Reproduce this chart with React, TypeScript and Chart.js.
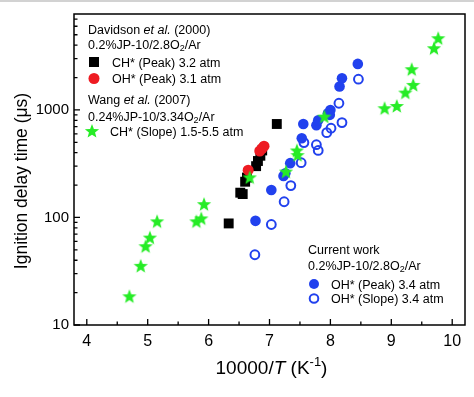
import React, { useEffect, useRef } from 'react';
import { Chart, registerables } from 'chart.js';
Chart.register(...registerables);

const W = 474;
const H = 397;
const FAM = '"Liberation Sans", Arial, Helvetica, sans-serif';

// Davidson et al. (2000) CH* (Peak) 3.2 atm
const chPeakX = [6.33, 6.52, 6.56, 6.6, 6.63, 6.78, 6.81, 6.85, 6.88, 7.12];
const chPeakY = [88, 170, 165, 215, 235, 300, 335, 375, 420, 740];
// Davidson et al. (2000) OH* (Peak) 3.1 atm
const ohPeakDX = [6.65, 6.84, 6.88, 6.91];
const ohPeakDY = [275, 415, 440, 460];
// Wang et al. (2007) CH* (Slope) 1.5-5.5 atm
const wangX = [4.7, 4.885, 4.966, 5.036, 5.154, 5.8, 5.88, 5.925, 6.675, 7.27, 7.45, 7.46, 7.9, 8.89, 9.09, 9.23, 9.36, 9.335, 9.7, 9.77];
const wangY = [18.5, 35.5, 54, 65, 92, 92, 98, 133, 236, 267, 420, 380, 867, 1037, 1089, 1449, 1709, 2392, 3750, 4645];
// Current work OH* (Peak) 3.4 atm
const cwPeakX = [6.77, 7.03, 7.23, 7.26, 7.34, 7.53, 7.555, 7.77, 7.8, 7.96, 8.0, 7.99, 8.15, 8.19, 8.45];
const cwPeakY = [93, 180, 243, 258, 320, 546, 740, 720, 800, 930, 1000, 900, 1650, 1970, 2680];
// Current work OH* (Slope) 3.4 atm
const cwSlopeX = [6.76, 7.03, 7.24, 7.35, 7.52, 7.565, 7.77, 7.8, 7.94, 8.01, 8.19, 8.14, 8.46];
const cwSlopeY = [45, 86, 140, 198, 323, 497, 475, 420, 615, 676, 762, 1154, 1930];

const xTicks = [4, 5, 6, 7, 8, 9, 10];
const xMinorTicks = [4.5, 5.5, 6.5, 7.5, 8.5, 9.5];
const yTicks = [10, 100, 1000];
const yMinorTicks = [20, 30, 40, 50, 60, 70, 80, 90, 200, 300, 400, 500, 600, 700, 800, 900, 2000, 3000, 4000, 5000, 6000, 7000];

const yTitle = 'Ignition delay time (\u03bcs)';

type Run = { t: string; italic?: boolean; sub?: boolean; sup?: boolean };

const xTitleRuns: Run[] = [{ t: '10000/' }, { t: 'T', italic: true }, { t: ' (K' }, { t: '-1', sup: true }, { t: ')' }];
const davidsonHead: Run[] = [{ t: 'Davidson ' }, { t: 'et al.', italic: true }, { t: ' (2000)' }];
const davidsonMix: Run[] = [{ t: '0.2%JP-10/2.8O' }, { t: '2', sub: true }, { t: '/Ar' }];
const wangHead: Run[] = [{ t: 'Wang ' }, { t: 'et al.', italic: true }, { t: ' (2007)' }];
const wangMix: Run[] = [{ t: '0.24%JP-10/3.34O' }, { t: '2', sub: true }, { t: '/Ar' }];
const cwHead: Run[] = [{ t: 'Current work' }];
const cwMix: Run[] = [{ t: '0.2%JP-10/2.8O' }, { t: '2', sub: true }, { t: '/Ar' }];
const labelChPeak = 'CH* (Peak) 3.2 atm';
const labelOhPeakD = 'OH* (Peak) 3.1 atm';
const labelWang = 'CH* (Slope) 1.5-5.5 atm';
const labelCwPeak = 'OH* (Peak) 3.4 atm';
const labelCwSlope = 'OH* (Slope) 3.4 atm';

const GREEN = '#26ec26';
const BLUE = '#2141ee';
const RED = '#ee1b22';

function starPath(ctx: CanvasRenderingContext2D, cx: number, cy: number, ro: number, ri: number) {
  ctx.beginPath();
  for (let i = 0; i < 10; i++) {
    const r = i % 2 === 0 ? ro : ri;
    const a = -Math.PI / 2 + (i * Math.PI) / 5;
    const px = cx + r * Math.cos(a);
    const py = cy + r * Math.sin(a);
    if (i === 0) ctx.moveTo(px, py);
    else ctx.lineTo(px, py);
  }
  ctx.closePath();
}

function makeStar(): HTMLCanvasElement {
  const c = document.createElement('canvas');
  c.width = 16;
  c.height = 16;
  const g = c.getContext('2d')!;
  g.fillStyle = GREEN;
  starPath(g, 8, 8.6, 7.5, 3.2);
  g.fill();
  return c;
}

function drawRuns(ctx: CanvasRenderingContext2D, runs: Run[], x: number, yMid: number, size: number, align: 'left' | 'center') {
  const fontFor = (r: Run) => `${r.italic ? 'italic ' : ''}${r.sub || r.sup ? Math.round(size * 0.68) : size}px ${FAM}`;
  let total = 0;
  for (const r of runs) {
    ctx.font = fontFor(r);
    total += ctx.measureText(r.t).width;
  }
  let cx = align === 'center' ? x - total / 2 : x;
  const base = yMid + size * 0.36;
  ctx.textAlign = 'left';
  ctx.textBaseline = 'alphabetic';
  for (const r of runs) {
    ctx.font = fontFor(r);
    const dy = r.sub ? size * 0.22 : r.sup ? -size * 0.4 : 0;
    ctx.fillText(r.t, cx, base + dy);
    cx += ctx.measureText(r.t).width;
  }
}

const decor = {
  id: 'decor',
  beforeDraw(chart: any) {
    const ctx = chart.ctx;
    ctx.save();
    ctx.fillStyle = '#ffffff';
    ctx.fillRect(0, 0, W, H);
    ctx.fillStyle = '#d2d2d2';
    ctx.fillRect(0, 0, W, 2);
    ctx.restore();
  },
  afterDraw(chart: any) {
    const ctx: CanvasRenderingContext2D = chart.ctx;
    const a = chart.chartArea;
    const xs = chart.scales.x;
    const ys = chart.scales.y;
    ctx.save();
    ctx.strokeStyle = '#000';
    ctx.lineWidth = 1.5;
    ctx.strokeRect(a.left, a.top, a.right - a.left, a.bottom - a.top);
    ctx.lineWidth = 1.3;
    ctx.beginPath();
    for (const v of xTicks) {
      const px = xs.getPixelForValue(v);
      ctx.moveTo(px, a.bottom);
      ctx.lineTo(px, a.bottom - 6);
    }
    for (const v of xMinorTicks) {
      const px = xs.getPixelForValue(v);
      ctx.moveTo(px, a.bottom);
      ctx.lineTo(px, a.bottom - 3.5);
    }
    for (const v of yTicks) {
      const py = ys.getPixelForValue(v);
      ctx.moveTo(a.left, py);
      ctx.lineTo(a.left + 6, py);
    }
    for (const v of yMinorTicks) {
      const py = ys.getPixelForValue(v);
      ctx.moveTo(a.left, py);
      ctx.lineTo(a.left + 3.5, py);
    }
    ctx.stroke();

    ctx.fillStyle = '#000';
    // axis titles
    drawRuns(ctx, xTitleRuns, (a.left + a.right) / 2 + 2, 367, 19, 'center');
    ctx.save();
    ctx.translate(22, 181);
    ctx.rotate(-Math.PI / 2);
    ctx.font = `17.5px ${FAM}`;
    ctx.textAlign = 'center';
    ctx.textBaseline = 'middle';
    ctx.fillText(yTitle, 0, 0);
    ctx.restore();

    // legend top-left
    const fs = 12.5;
    drawRuns(ctx, davidsonHead, 88, 29, fs, 'left');
    drawRuns(ctx, davidsonMix, 88, 44, fs, 'left');
    ctx.fillStyle = '#000';
    ctx.fillRect(89, 57, 10, 10);
    drawRuns(ctx, [{ t: labelChPeak }], 112, 62, fs, 'left');
    ctx.fillStyle = RED;
    ctx.beginPath();
    ctx.arc(94, 78.5, 5.5, 0, Math.PI * 2);
    ctx.fill();
    ctx.fillStyle = '#000';
    drawRuns(ctx, [{ t: labelOhPeakD }], 112, 78.5, fs, 'left');
    drawRuns(ctx, wangHead, 88, 99, fs, 'left');
    drawRuns(ctx, wangMix, 88, 116, fs, 'left');
    ctx.fillStyle = GREEN;
    starPath(ctx, 92, 131.5, 7.5, 3.2);
    ctx.fill();
    ctx.fillStyle = '#000';
    drawRuns(ctx, [{ t: labelWang }], 110, 131, fs, 'left');

    // legend bottom-right
    drawRuns(ctx, cwHead, 308, 249, fs, 'left');
    drawRuns(ctx, cwMix, 308, 265, fs, 'left');
    ctx.fillStyle = BLUE;
    ctx.beginPath();
    ctx.arc(314, 284, 5, 0, Math.PI * 2);
    ctx.fill();
    ctx.strokeStyle = BLUE;
    ctx.lineWidth = 2;
    ctx.beginPath();
    ctx.arc(314, 298.5, 4.3, 0, Math.PI * 2);
    ctx.stroke();
    ctx.fillStyle = '#000';
    drawRuns(ctx, [{ t: labelCwPeak }], 331, 284, fs, 'left');
    drawRuns(ctx, [{ t: labelCwSlope }], 331, 298.5, fs, 'left');
    ctx.restore();
  },
};

const pts = (xs: number[], ys: number[]) => xs.map((x, i) => ({ x, y: ys[i] }));

export default function App() {
  const ref = useRef<HTMLCanvasElement>(null);
  useEffect(() => {
    document.body.style.margin = '0';
    const star = makeStar();
    const chart = new Chart(ref.current!, {
      type: 'scatter',
      data: {
        datasets: [
          { label: labelWang, data: pts(wangX, wangY), pointStyle: star as any, pointRadius: 8 },
          { label: labelOhPeakD, data: pts(ohPeakDX, ohPeakDY), pointStyle: 'circle', pointRadius: 5.5, backgroundColor: RED, borderColor: RED, borderWidth: 0 },
          { label: labelChPeak, data: pts(chPeakX, chPeakY), pointStyle: 'rect', pointRadius: 7, backgroundColor: '#000', borderColor: '#000', borderWidth: 0 },
          { label: labelCwPeak, data: pts(cwPeakX, cwPeakY), pointStyle: 'circle', pointRadius: 5.3, backgroundColor: BLUE, borderColor: BLUE, borderWidth: 0 },
          { label: labelCwSlope, data: pts(cwSlopeX, cwSlopeY), pointStyle: 'circle', pointRadius: 4.4, backgroundColor: 'rgba(0,0,0,0)', borderColor: BLUE, borderWidth: 2 },
        ],
      },
      options: {
        responsive: false,
        animation: false,
        devicePixelRatio: 1,
        layout: { padding: { top: 14, right: 3, left: 0, bottom: 0 } },
        plugins: { legend: { display: false }, tooltip: { enabled: false } },
        scales: {
          x: {
            type: 'linear',
            min: 3.79,
            max: 10.21,
            grid: { display: false, drawTicks: false },
            border: { display: false },
            ticks: { color: '#000', font: { family: FAM, size: 16 }, padding: 7, autoSkip: false, maxRotation: 0, callback: (v: any) => String(v) },
            afterBuildTicks: (s: any) => { s.ticks = xTicks.map((v) => ({ value: v })); },
            afterFit: (s: any) => { s.height = 72; },
          },
          y: {
            type: 'logarithmic',
            min: 10,
            max: 7800,
            grid: { display: false, drawTicks: false },
            border: { display: false },
            ticks: { color: '#000', font: { family: FAM, size: 15 }, padding: 5, autoSkip: false, callback: (v: any) => String(v) },
            afterBuildTicks: (s: any) => { s.ticks = yTicks.map((v) => ({ value: v })); },
            afterFit: (s: any) => { s.width = 74; },
          },
        },
      },
      plugins: [decor],
    });
    return () => chart.destroy();
  }, []);
  return <canvas ref={ref} width={W} height={H} style={{ display: 'block', width: W, height: H }} />;
}
